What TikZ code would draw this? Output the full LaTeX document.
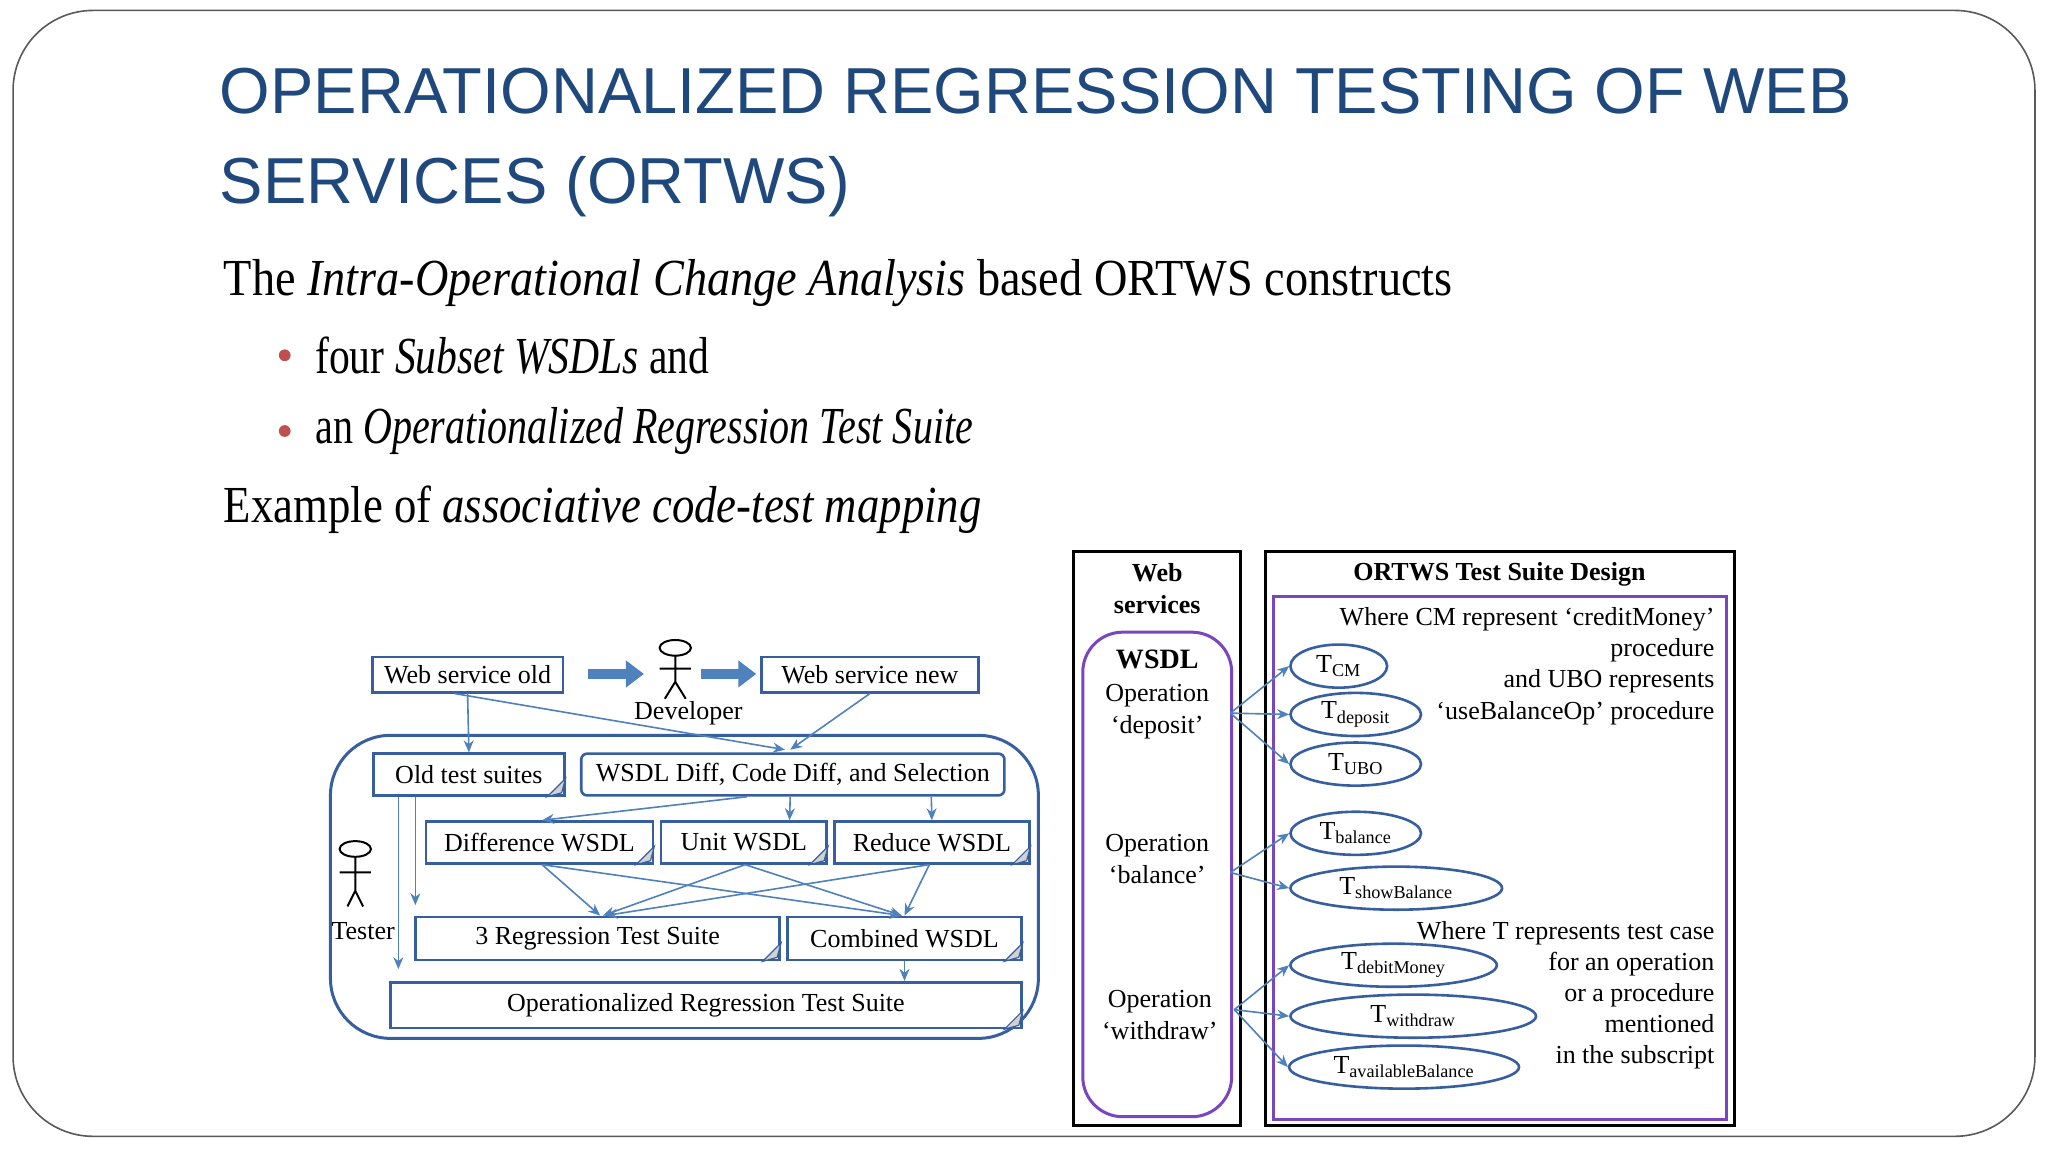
\documentclass[tikz,border=0pt]{standalone}
\usepackage{fontspec}
\setmainfont{Liberation Serif}
\newfontfamily\heros{Liberation Sans}
\usetikzlibrary{arrows.meta,calc,shapes.geometric}
\definecolor{ttl}{RGB}{31,73,125}
\definecolor{bl}{RGB}{79,129,189}
\definecolor{bd}{RGB}{55,95,160}
\definecolor{pur}{RGB}{120,70,190}
\definecolor{bul}{RGB}{192,80,77}
\newcommand\myfold[1]{\fill[gray!35,draw=bd,line width=0.6pt] ($(#1.south east)+(-14,0)$) -- ($(#1.south east)+(0,-14)$) -- ($(#1.south east)+(-3,-3)$) -- cycle;}
\begin{document}
\begin{tikzpicture}[x=0.653pt,y=-0.653pt,
 box/.style={draw=bd,line width=1.3pt,fill=white,inner sep=0pt,font=\fontsize{13}{14}\selectfont},
 ar/.style={draw=bl,line width=0.8pt,-{Stealth[length=6pt,width=5pt]}},
 el/.style={ellipse,draw=bd,line width=1.3pt,inner sep=0pt,font=\fontsize{13}{14}\selectfont},
 body/.style={anchor=west,font=\fontsize{26}{30}\selectfont},
 lab/.style={font=\fontsize{13}{15.6}\selectfont,align=right,anchor=east}]
\useasboundingbox (0,0) rectangle (1568,882);
\fill[white] (0,0) rectangle (1568,882);
\draw[gray!70!black,line width=0.8pt,rounded corners=40] (10,8) rectangle (1558,870);
% title
\node[anchor=west,text=ttl,font=\heros\fontsize{32.5}{45}\selectfont,align=left] (title) at (163,109) {OPERATIONALIZED REGRESSION TESTING OF WEB\\SERVICES (ORTWS)};
\node[body] (l1) at (166,217) {\scalebox{0.89}[1]{The \textit{Intra-Operational Change Analysis} based ORTWS constructs}};
\fill[bul] (218,272) circle (4.5);
\node[body] (l2) at (236,272) {\scalebox{0.8}[1]{four \textit{Subset WSDLs} and}};
\fill[bul] (218,330) circle (4.5);
\node[body] (l3) at (236,330) {\scalebox{0.77}[1]{an \textit{Operationalized Regression Test Suite}}};
\node[body] (l4) at (166,390) {\scalebox{0.86}[1]{Example of \textit{associative code-test mapping}}};
% left diagram
\draw[bd,line width=1.5pt,rounded corners=30] (253,563) rectangle (795,795);
\node[box,minimum width=146*0.653pt,minimum height=27*0.653pt] (wso) at (358,516.5) {Web service old};
\node[box,minimum width=166*0.653pt,minimum height=27*0.653pt] (wsn) at (666,516.5) {Web service new};
\draw[bl,line width=5pt,-{Triangle[length=9pt,width=13pt]}] (450,516) -- (493,516);
\draw[bl,line width=5pt,-{Triangle[length=9pt,width=13pt]}] (537,516) -- (579,516);
\draw[black,line width=1pt] (517,496) ellipse (12 and 6) (517,502) -- (517,522) (505,512) -- (529,512) (509,535) -- (517,522) -- (525,535);
\node[font=\fontsize{13}{14}\selectfont] (dev) at (527,546) {Developer};
\node[box,minimum width=146*0.653pt,minimum height=32*0.653pt] (ots) at (359,593) {Old test suites};
\node[box,rounded corners=3pt,minimum width=324*0.653pt,minimum height=32*0.653pt] (diff) at (607,593) {WSDL Diff, Code Diff, and Selection};
\node[box,minimum width=174*0.653pt,minimum height=32*0.653pt] (dw) at (413,645) {Difference WSDL};
\node[box,minimum width=127*0.653pt,minimum height=32*0.653pt] (uw) at (569.5,645) {Unit WSDL};
\node[box,minimum width=149*0.653pt,minimum height=32*0.653pt] (rw) at (713.5,645) {Reduce WSDL};
\node[box,minimum width=279*0.653pt,minimum height=33*0.653pt] (rts) at (457.5,718.5) {3 Regression Test Suite};
\node[box,minimum width=179*0.653pt,minimum height=33*0.653pt] (cw) at (692.5,718.5) {Combined WSDL};
\node[box,minimum width=483*0.653pt,minimum height=35*0.653pt] (orts) at (540.5,769.5) {Operationalized Regression Test Suite};
\myfold{ots}\myfold{dw}\myfold{uw}\myfold{rw}\myfold{rts}\myfold{cw}\myfold{orts}
\draw[black,line width=1pt] (272,650) ellipse (12 and 6) (272,656) -- (272,682) (260,668) -- (284,668) (266,694) -- (272,682) -- (278,694);
\node[font=\fontsize{13}{14}\selectfont] (tester) at (278,713) {Tester};
\draw[ar] ($(wso.south)+(0,0)$) -- (ots.north);
\draw[ar] ($(wso.south)+(-10,0)$) -- ($(diff.north)+(-6,-2)$);
\draw[ar] ($(wsn.south)+(0,0)$) -- ($(diff.north)+(-2,-2)$);
\draw[ar] ($(diff.south)+(-35,0)$) -- ($(dw.north)+(2,0)$);
\draw[ar] ($(diff.south)+(-2,0)$) -- ($(uw.north)+(35,0)$);
\draw[ar] ($(diff.south)+(106,0)$) -- ($(rw.north)+(0,0)$);
\draw[ar] ($(ots.south)+(-41,0)$) -- (318,693);
\draw[ar] ($(ots.south)+(-54,0)$) -- (305,742);
\draw[ar] ($(dw.south)+(2,0)$) -- ($(rts.north)+(2,0)$);
\draw[ar] ($(dw.south)+(2,0)$) -- ($(cw.north)+(-2,0)$);
\draw[ar] ($(uw.south)+(1,0)$) -- ($(rts.north)+(4,0)$);
\draw[ar] ($(uw.south)+(1,0)$) -- ($(cw.north)+(-2,0)$);
\draw[ar] ($(rw.south)+(-2,0)$) -- ($(rts.north)+(6,0)$);
\draw[ar] ($(rw.south)+(-2,0)$) -- ($(cw.north)+(0,0)$);
\draw[ar] (cw.south) -- (orts.north -| cw.south);
% right diagram
\draw[black,line width=1.5pt] (822,422) rectangle (950,862);
\node[font=\bfseries\fontsize{13}{16}\selectfont,align=center] (wst) at (886,451) {Web\\services};
\draw[pur,line width=1.5pt,rounded corners=20] (829,484) rectangle (943,855);
\node[font=\bfseries\fontsize{14}{16}\selectfont] (wsdl) at (886,505) {WSDL};
\node[font=\fontsize{13}{16}\selectfont,align=center] (op1) at (886,545) {Operation\\`deposit'};
\node[font=\fontsize{13}{16}\selectfont,align=center] (op2) at (886,658) {Operation\\`balance'};
\node[font=\fontsize{13}{16}\selectfont,align=center] (op3) at (888,777) {Operation\\`withdraw'};
\draw[black,line width=1.5pt] (969,422) rectangle (1328,862);
\node[font=\bfseries\fontsize{13}{16}\selectfont] (ort) at (1148,440) {ORTWS Test Suite Design};
\draw[pur,line width=1.5pt] (975,457) rectangle (1322,857);
\node[el,minimum width=74*0.653pt,minimum height=33*0.653pt] (tcm) at (1025,510) {T\textsubscript{CM}};
\node[el,minimum width=100*0.653pt,minimum height=33*0.653pt] (tdep) at (1038,547) {T\textsubscript{deposit}};
\node[el,minimum width=100*0.653pt,minimum height=33*0.653pt] (tubo) at (1038,585) {T\textsubscript{UBO}};
\node[el,minimum width=100*0.653pt,minimum height=33*0.653pt] (tbal) at (1038,638) {T\textsubscript{balance}};
\node[el,minimum width=162*0.653pt,minimum height=33*0.653pt] (tsb) at (1069,680) {T\textsubscript{showBalance}};
\node[el,minimum width=158*0.653pt,minimum height=33*0.653pt] (tdm) at (1067,739) {T\textsubscript{debitMoney}};
\node[el,minimum width=188*0.653pt,minimum height=33*0.653pt] (twd) at (1082,778) {T\textsubscript{withdraw}};
\node[el,minimum width=176*0.653pt,minimum height=33*0.653pt] (tab) at (1075,817) {T\textsubscript{availableBalance}};
\coordinate (s1) at (942,546);
\coordinate (s2) at (942,668);
\coordinate (s3) at (945,773);
\draw[ar] (s1) -- (tcm.west);
\draw[ar] (s1) -- (tdep.west);
\draw[ar] (s1) -- (tubo.west);
\draw[ar] (s2) -- (tbal.west);
\draw[ar] (s2) -- (tsb.west);
\draw[ar] (s3) -- (tdm.west);
\draw[ar] (s3) -- (twd.west);
\draw[ar] (s3) -- (tab.west);
\node[lab] (n1) at (1318,510) {Where CM represent `creditMoney'\\procedure\\and UBO represents\\`useBalanceOp' procedure};
\node[lab] (n2) at (1318,762) {Where T represents test case\\for an operation\\or a procedure\\mentioned\\in the subscript};
\end{tikzpicture}
\end{document}
